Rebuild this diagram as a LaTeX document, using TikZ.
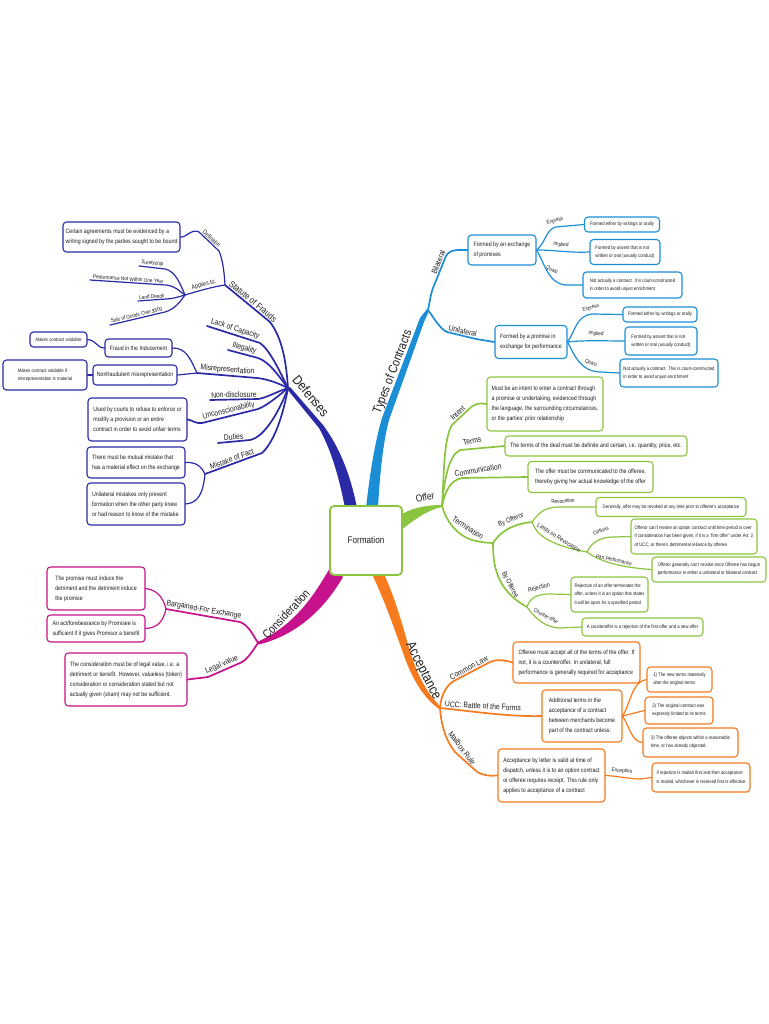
\documentclass[tikz,border=0pt]{standalone}
\usepackage{fontspec}
\setmainfont{Liberation Sans}[FakeStretch=0.85]
\newcommand\fsz[2]{\fontsize{#1}{#2}\selectfont}
\definecolor{cD}{RGB}{42,42,166}
\definecolor{cT}{RGB}{28,142,214}
\definecolor{cO}{RGB}{139,197,63}
\definecolor{cA}{RGB}{246,122,30}
\definecolor{cC}{RGB}{198,18,140}
\definecolor{tx}{RGB}{30,30,30}
\begin{document}
\begin{tikzpicture}[x=1pt,y=-1pt,
  bx/.style={draw, rounded corners=3.5pt, fill=white, text=tx, line width=1.1pt, align=left, inner xsep=2.5pt, inner ysep=1.5pt},
  B/.style 2 args={minimum width=#1pt, minimum height=#2pt},
  bf/.style={font=\fsz{6.2}{10}},
  sf/.style={font=\fsz{5}{8.3}},
  l1/.style={line width=1.7pt, line cap=round},
  l2/.style={line width=1.2pt, line cap=round},
  lab/.style={font=\fsz{8}{8}, inner sep=1pt, text=tx},
  labn/.style={font=\fsz{7}{7}, inner sep=1pt, text=tx},
  labm/.style={font=\fsz{6.3}{6.3}, inner sep=1pt, text=tx},
  labs/.style={font=\fsz{5.5}{5.5}, inner sep=0.8pt, text=tx},
  big/.style={inner sep=0, text=tx},
]
\useasboundingbox (0,0) rectangle (768,1024);
\fill[white] (0,0) rectangle (768,1024);

% ---------- hubs ----------
\coordinate (hD) at (288,388);
\coordinate (hSoF) at (225,285);
\coordinate (hApp) at (185,295);
\coordinate (hMis) at (197,373);
\coordinate (hMoF) at (205,474);
\coordinate (eSur) at (139,266);
\coordinate (ePerf) at (90,280);
\coordinate (eLand) at (138,301);
\coordinate (eSale) at (110,325);
\coordinate (eLack) at (207,326);
\coordinate (eIll) at (228,350);
\coordinate (eNon) at (210,400);
\coordinate (eDut) at (218,443);
\coordinate (hT) at (428,310);
\coordinate (hO) at (442,506);
\coordinate (hTerm) at (493,543);
\coordinate (hOffr) at (532,522);
\coordinate (hLim) at (587,552);
\coordinate (hOffe) at (527,607);
\coordinate (hA) at (440,708);
\coordinate (hC) at (258,643);
\coordinate (hBFE) at (166,609);

% ---------- main branches ----------
\fill[cD] (345,508) .. controls (338,472) and (330,448) .. (319,428) -- (287,389) -- (290,387) -- (323,425) .. controls (338,445) and (350,472) .. (357,508) -- cycle;
\fill[cT] (366,508) .. controls (370,472) and (375,442) .. (382,418) -- (420,318) -- (427,309) -- (429,311) -- (424,322) -- (389,420) .. controls (383,443) and (380,472) .. (378,508) -- cycle;
\fill[cO] (400,515) .. controls (414,507) and (428,505) .. (442,505) -- (442,507) .. controls (430,509) and (416,518) .. (400,531) -- cycle;
\fill[cA] (372,574) .. controls (386,604) and (394,628) .. (402,650) .. controls (410,674) and (421,696) .. (439,709) -- (441,707) .. controls (425,692) and (416,671) .. (409,648) .. controls (402,623) and (395,598) .. (384,574) -- cycle;
\fill[cC] (331,566) .. controls (314,596) and (294,626) .. (257,642) -- (259,644.5) .. controls (300,634) and (326,606) .. (343,577) -- cycle;

\node[big, font=\fsz{13.5}{13.5}, rotate=-50] (lDef) at (311,396) {Defenses};
\node[big, font=\fsz{12.5}{12.5}, rotate=69] (lTyp) at (393,372) {Types of Contracts};
\node[big, font=\fsz{10}{10}, rotate=12] (lOff) at (425,497) {Offer};
\node[big, font=\fsz{14}{14}, rotate=-63] (lAcc) at (423,671) {Acceptance};
\node[big, font=\fsz{12}{12}, rotate=47] (lCon) at (286,614) {Consideration};

% ---------- Defenses boxes ----------
\node[bx, draw=cD, bf, B={109}{30}] (defBox) at (121.5,237) {Certain agreements must be evidenced by a\\writing signed by the parties sought to be bound};
\node[bx, draw=cD, bf, B={67}{18}] (fraudBox) at (138.5,348) {Fraud in the Inducement};
\node[bx, draw=cD, bf, B={84}{20}] (nonfBox) at (135,375) {Nonfraudulent misrepresentation};
\node[bx, draw=cD, sf, B={57}{15}] (void1) at (58.5,339.5) {Makes contract voidable};
\node[bx, draw=cD, sf, B={84}{30}] (void2) at (45,375) {Makes contract voidable if\\misrepresentation is material};
\node[bx, draw=cD, bf, B={99}{43}] (uncBox) at (137.5,419.5) {Used by courts to refuse to enforce or\\modify a provision or an entire\\contract in order to avoid unfair terms};
\node[bx, draw=cD, bf, B={98}{31}] (mutBox) at (136,462.5) {There must be mutual mistake that\\has a material effect on the exchange};
\node[bx, draw=cD, bf, B={98}{42}] (uniBox) at (136,504) {Unilateral mistakes only prevent\\formation when the other party knew\\or had reason to know of the mistake.};

% ---------- Defenses links ----------
\draw[l1,cD] (hD) .. controls (286,360) and (282,338) .. (270,322) -- node[font=\fsz{9}{9}, inner sep=1pt, text=tx, sloped, above, pos=0.45] (lSoF) {Statute of Frauds} (hSoF);
\draw[l2,cD] (hSoF) .. controls (224,268) and (222,258) .. (219,251) -- node[labm, sloped, above] (lDefi) {Definition} (199,232) .. controls (192,228) and (186,238) .. (defBox.east);
\draw[l2,cD] (hSoF) .. controls (212,287) and (198,291) .. node[labm, sloped, above] (lApp) {Applies to:} (hApp);
\draw[l2,cD] (hApp) .. controls (180,283) and (175,271) .. (165,269) -- node[labs, sloped, above] (lSur) {Suretyship} (eSur);
\draw[l2,cD] (hApp) .. controls (178,290) and (175,286) .. (166,285) -- node[labs, sloped, above] (lPerf) {Performance Not Within One Year} (ePerf);
\draw[l2,cD] (hApp) .. controls (178,297) and (172,299) .. (166,299) -- node[labs, sloped, above] (lLand) {Land Deeds} (eLand);
\draw[l2,cD] (hApp) .. controls (180,302) and (175,309) .. (165,312) -- node[labs, sloped, above] (lSale) {Sale of Goods Over \$500} (eSale);
\draw[l1,cD] (hD) .. controls (280,372) and (270,350) .. (260,343) -- node[lab, sloped, above] (lLack) {Lack of Capacity} (eLack);
\draw[l1,cD] (hD) .. controls (280,378) and (270,362) .. (258,358) -- node[lab, sloped, above] (lIll) {Illegality} (eIll);
\draw[l1,cD] (hD) .. controls (280,384) and (268,379) .. (257,378) -- node[lab, sloped, above] (lMis) {Misrepresentation} (hMis);
\draw[l2,cD] (hMis) .. controls (190,358) and (186,348) .. (fraudBox.east);
\draw[l2,cD] (hMis) -- (nonfBox.east);
\draw[l2,cD] (fraudBox.west) .. controls (97,348) and (96,340) .. (void1.east);
\draw[l2,cD] (nonfBox.west) -- (void2.east);
\draw[l1,cD] (hD) .. controls (276,392) and (266,398) .. (258,399) -- node[lab, sloped, above] (lNon) {Non-disclosure} (eNon);
\draw[l1,cD] (hD) .. controls (276,398) and (266,406) .. (258,409) -- node[lab, sloped, above] (lUnc) {Unconscionability} (202,423) .. controls (196,424) and (192,420) .. (uncBox.east);
\draw[l1,cD] (hD) .. controls (280,410) and (265,437) .. (250,440) -- node[lab, sloped, above] (lDut) {Duties} (eDut);
\draw[l1,cD] (hD) .. controls (284,410) and (276,440) .. (262,453) -- node[lab, sloped, above] (lMoF) {Mistake of Fact} (hMoF);
\draw[l2,cD] (hMoF) .. controls (201,466) and (196,462) .. (mutBox.east);
\draw[l2,cD] (hMoF) .. controls (203,494) and (198,503) .. (uniBox.east);

% ---------- Types boxes ----------
\node[bx, draw=cT, bf, B={68}{30}] (bilBox) at (502,250) {Formed by an exchange\\of promises};
\node[bx, draw=cT, bf, B={72}{33}] (uniBoxT) at (531,342) {Formed by a promise in\\exchange for performance};
\node[bx, draw=cT, sf, B={75}{15}] (exp1) at (622,224.5) {Formed either by writings or orally};
\node[bx, draw=cT, sf, B={70}{25}] (imp1) at (625,252) {Formed by assent that is not\\written or oral (usually conduct)};
\node[bx, draw=cT, sf, B={99}{26}] (qua1) at (632.5,285) {Not actually a contract. It is court-constructed\\in order to avoid unjust enrichment};
\node[bx, draw=cT, sf, B={74}{15}] (exp2) at (660,314.5) {Formed either by writings or orally};
\node[bx, draw=cT, sf, B={72}{28}] (imp2) at (661,341) {Formed by assent that is not\\written or oral (usually conduct)};
\node[bx, draw=cT, sf, B={98}{28}] (qua2) at (669,373) {Not actually a contract. This is court-constructed\\in order to avoid unjust enrichment};

% ---------- Types links ----------
\draw[l1,cT] (hT) .. controls (430,300) and (431,293) .. (433,288) -- node[lab, sloped, above, pos=0.75] (lBil) {Bilateral} (446,256) .. controls (450,249) and (458,250) .. (bilBox.west);
\draw[l1,cT] (hT) .. controls (434,318) and (440,329) .. (447,332) -- node[lab, sloped, above] (lUni) {Unilateral} (476,339) -- (uniBoxT.west);
\draw[l2,cT] (bilBox.east) .. controls (545,244) and (546,229) .. (556,227) -- (exp1.west);
\draw[l2,cT] (bilBox.east) .. controls (555,250) and (570,253) .. (imp1.west);
\draw[l2,cT] (bilBox.east) .. controls (544,262) and (548,283) .. (565,285) -- (qua1.west);
\draw[l2,cT] (uniBoxT.east) .. controls (576,330) and (576,316) .. (592,314) -- (exp2.west);
\draw[l2,cT] (uniBoxT.east) .. controls (585,340) and (605,341) .. (imp2.west);
\draw[l2,cT] (uniBoxT.east) .. controls (575,356) and (580,371) .. (600,372) -- (qua2.west);
\node[labs, rotate=18] (lExp1) at (555,221) {Express};
\node[labs, rotate=-5] (lImp1) at (561,245) {Implied};
\node[labs, rotate=-25] (lQua1) at (552,270) {Quasi};
\node[labs, rotate=15] (lExp2) at (591,308) {Express};
\node[labs, rotate=-5] (lImp2) at (596,334) {Implied};
\node[labs, rotate=-20] (lQua2) at (591,363) {Quasi};

% ---------- Offer boxes ----------
\node[bx, draw=cO, bf, B={116}{54}] (intBox) at (545,404) {Must be an intent to enter a contract through\\a promise or undertaking, evidenced through\\the language, the surrounding circumstances,\\or the parties' prior relationship};
\node[bx, draw=cO, bf, B={182}{20}] (termsBox) at (596,446) {The terms of the deal must be definite and certain, i.e. quantity, price, etc.};
\node[bx, draw=cO, bf, B={125}{31}] (commBox) at (590.5,477) {The offer must be communicated to the offeree,\\thereby giving her actual knowledge of the offer};
\node[bx, draw=cO, sf, B={150}{19}] (revBox) at (671,507) {Generally, offer may be revoked at any time prior to offeree's acceptance};
\node[bx, draw=cO, sf, B={126}{35}] (optBox) at (694,536.5) {Offeror can't revoke an option contract until time period is over\\if consideration has been given, if it is a ``firm offer'' under Art. 2\\of UCC, or there's detrimental reliance by offeree.};
\node[bx, draw=cO, sf, B={114}{25}] (ppBox) at (709,569.5) {Offeror generally can't revoke once Offeree has begun\\performance in either a unilateral or bilateral contract};
\node[bx, draw=cO, sf, B={77}{35}] (rejBox) at (609.5,594.5) {Rejection of an offer terminates the\\offer, unless it is an option that states\\it will be open for a specified period};
\node[bx, draw=cO, sf, B={121}{18}] (coBox) at (642.5,627) {A counteroffer is a rejection of the first offer and a new offer};

% ---------- Offer links ----------
\draw[l1,cO] (hO) .. controls (444,480) and (443,440) .. (452,425) -- node[lab, sloped, above] (lInt) {Intent} (470,408) .. controls (476,403) and (480,403) .. (intBox.west);
\draw[l1,cO] (hO) .. controls (444,482) and (448,456) .. (460,450) -- (termsBox.west);
\draw[l1,cO] (hO) .. controls (445,492) and (450,480) .. (462,478) -- (commBox.west);
\draw[l1,cO] (hO) .. controls (446,520) and (455,534) .. (472,540) .. controls (480,542) and (487,543) .. (hTerm);
\draw[l1,cO] (hTerm) .. controls (500,532) and (512,524) .. (hOffr);
\draw[l2,cO] (hOffr) .. controls (540,511) and (546,507) .. (560,507) -- (revBox.west);
\draw[l2,cO] (hOffr) .. controls (536,534) and (548,545) .. (hLim);
\draw[l2,cO] (hLim) .. controls (592,542) and (600,537) .. (614,537) -- (optBox.west);
\draw[l2,cO] (hLim) .. controls (598,560) and (615,567) .. (ppBox.west);
\draw[l1,cO] (hTerm) .. controls (493,565) and (496,590) .. (hOffe);
\draw[l2,cO] (hOffe) .. controls (530,597) and (538,594) .. (550,594) -- (rejBox.west);
\draw[l2,cO] (hOffe) .. controls (535,619) and (547,628) .. (560,628) -- (coBox.west);
\node[lab, rotate=12] (lTerms) at (472,441) {Terms};
\node[lab, rotate=10] (lComm) at (478,470) {Communication};
\node[lab, rotate=-33] (lTerm) at (468,528) {Termination};
\node[labn, rotate=22] (lOffr) at (511,520) {By Offeror};
\node[labs, rotate=5] (lRev) at (563,501) {Revocation};
\node[labm, rotate=-32] (lLim) at (559,538) {Limits on Revocation};
\node[labs, rotate=20] (lOpt) at (601,531) {Options};
\node[labs, rotate=-12] (lPP) at (614,560) {Part Performance};
\node[labn, rotate=-62] (lOffe) at (510,585) {By Offeree};
\node[labm, rotate=15] (lRej) at (539,588) {Rejection};
\node[labs, rotate=-28] (lCO) at (546,616) {Counter offer};

% ---------- Acceptance boxes ----------
\node[bx, draw=cA, bf, B={127}{41}] (clBox) at (576.5,662.5) {Offeree must accept all of the terms of the offer. If\\not, it is a counteroffer. In unilateral, full\\performance is generally required for acceptance};
\node[bx, draw=cA, bf, B={80}{52}] (uccBox) at (582,716) {Additional terms in the\\acceptance of a contract\\between merchants become\\part of the contract unless:};
\node[bx, draw=cA, sf, B={65}{25}] (u1Box) at (679.5,679.5) {1) The new terms materially\\alter the original terms};
\node[bx, draw=cA, sf, B={68}{27}] (u2Box) at (679,710.5) {2) The original contract was\\expressly limited to its terms};
\node[bx, draw=cA, sf, B={95}{29}] (u3Box) at (690.5,742.5) {3) The offeree objects within a reasonable\\time, or has already objected};
\node[bx, draw=cA, bf, B={107}{53}] (mbBox) at (551.5,775.5) {Acceptance by letter is valid at time of\\dispatch, unless it is to an option contract\\or offeree requires receipt. This rule only\\applies to acceptance of a contract};
\node[bx, draw=cA, sf, B={98}{29}] (exBox) at (701,777.5) {If rejection is mailed first and then acceptance\\is mailed, whichever is received first is effective};

% ---------- Acceptance links ----------
\draw[l1,cA] (hA) .. controls (441,696) and (445,688) .. (452,682) -- node[lab, sloped, above] (lCL) {Common Law} (490,662) .. controls (496,659) and (505,660) .. (clBox.west);
\draw[l1,cA] (hA) .. controls (470,711) and (510,717) .. (uccBox.west);
\draw[l1,cA] (hA) .. controls (441,725) and (446,741) .. (455,752) -- (476,771) .. controls (483,776) and (490,776) .. (mbBox.west);
\draw[l2,cA] (uccBox.east) .. controls (630,705) and (632,681) .. (u1Box.west);
\draw[l2,cA] (uccBox.east) -- (u2Box.west);
\draw[l2,cA] (uccBox.east) .. controls (630,728) and (632,742) .. (u3Box.west);
\draw[l2,cA] (mbBox.east) .. controls (618,776) and (630,779) .. (640,779) -- (exBox.west);
\node[lab, rotate=-3] (lUCC) at (483,706) {UCC: Battle of the Forms};
\node[lab, rotate=-53] (lMB) at (462,748) {Mailbox Rule};
\node[labs, rotate=-5] (lEx) at (622,771) {Exception};

% ---------- Consideration boxes ----------
\node[bx, draw=cC, bf, B={98}{43}] (pmBox) at (96,588.5) {The promise must induce the\\detriment and the detriment induce\\the promise};
\node[bx, draw=cC, bf, B={98}{27}] (afBox) at (96,628.5) {An act/forebearance by Promisee is\\sufficient if it gives Promisor a benefit};
\node[bx, draw=cC, bf, B={122}{53}] (lvBox) at (126,679.5) {The consideration must be of legal value, i.e. a\\detriment or benefit. However, valueless (token)\\consideration or consideration stated but not\\actually given (sham) may not be sufficient.};

% ---------- Consideration links ----------
\draw[l1,cC] (hC) .. controls (252,633) and (248,625) .. (240,622) -- node[lab, sloped, above] (lBFE) {Bargained-For Exchange} (hBFE);
\draw[l2,cC] (hBFE) .. controls (163,597) and (157,590) .. (pmBox.east);
\draw[l2,cC] (hBFE) .. controls (163,622) and (157,628) .. (afBox.east);
\draw[l1,cC] (hC) .. controls (252,652) and (247,660) .. (240,663) -- node[lab, sloped, above] (lLV) {Legal value} (208,677) -- (lvBox.east);

% ---------- centre ----------
\node[draw=cO, line width=1.8pt, rounded corners=4pt, fill=white, text=tx, minimum width=72pt, minimum height=69pt, font=\fsz{9.6}{10}] (fBox) at (366,540.5) {Formation};
\end{tikzpicture}
\end{document}
